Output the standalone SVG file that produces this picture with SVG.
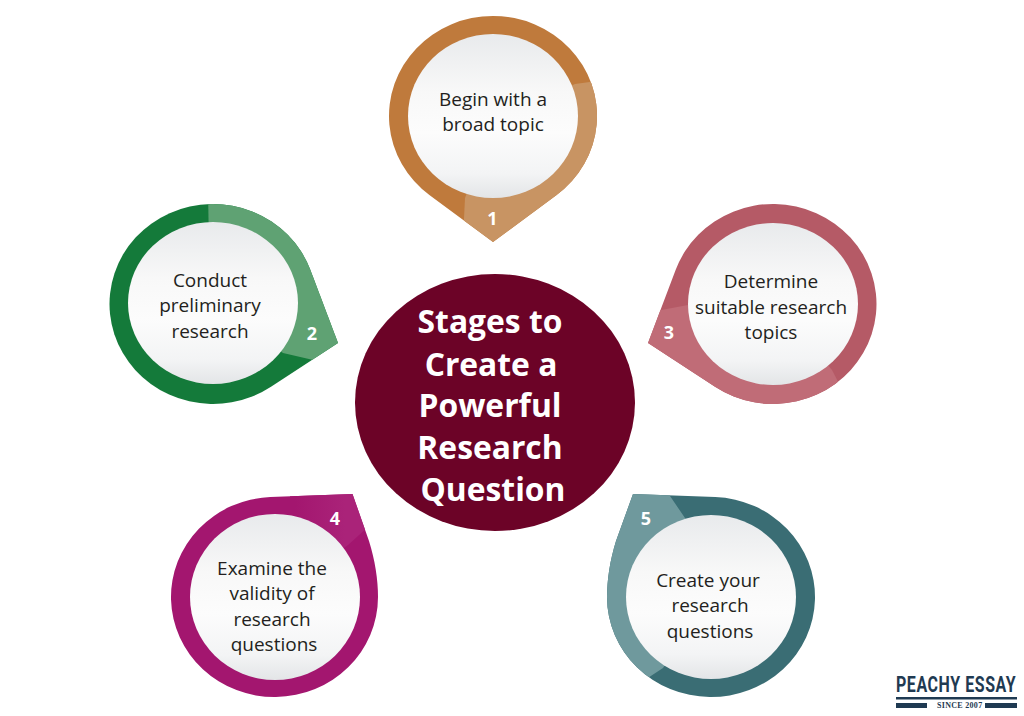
<svg xmlns="http://www.w3.org/2000/svg" width="1024" height="716" viewBox="0 0 1024 716">
<style>
.t{font-family:"Open Sans","Noto Sans",sans-serif;font-size:19px;fill:#231f20;text-anchor:middle}
.n{font-family:"Open Sans","Noto Sans",sans-serif;font-size:18px;font-weight:700;fill:#fff;text-anchor:middle}
.h{font-family:"Open Sans","Noto Sans",sans-serif;font-size:31.8px;font-weight:700;fill:#fff;text-anchor:middle}
.i{fill:url(#g)}
</style>
<defs>
<linearGradient id="g" x1="0" y1="0" x2="0" y2="1"><stop offset="0" stop-color="#e8eaec"/><stop offset=".35" stop-color="#f8f8f8"/><stop offset=".6" stop-color="#fcfcfc"/><stop offset=".85" stop-color="#f3f4f5"/><stop offset="1" stop-color="#e3e5e7"/></linearGradient>
<linearGradient id="w" gradientUnits="userSpaceOnUse" x1="295" y1="0" x2="345" y2="0"><stop offset="0" stop-color="#a3166f"/><stop offset="1" stop-color="#aa2379"/></linearGradient>
<clipPath id="c1"><path d="M493 242L429.7 195.3A104 100 0 1 1 556.3 195.3Z"/></clipPath>
<clipPath id="c2"><path d="M338 343L271 386.8A103.5 100 0 1 1 310.2 269.6Z"/></clipPath>
<clipPath id="c3"><path d="M648 343L675.8 269.6A103.5 100 0 1 1 715 386.8Z"/></clipPath>
<clipPath id="c4"><path d="M352.5 494L369 541C375 560 378 580 378 597A103.5 100 0 1 1 270.3 497.1Z"/></clipPath>
<clipPath id="c5"><path d="M633 494L715.2 497.1A104 100 0 1 1 607 597C607 580 610 560 616 541Z"/></clipPath>
</defs>
<rect width="1024" height="716" fill="#fff"/>
<g id="center">
<ellipse cx="495" cy="402.5" rx="140" ry="128.5" fill="#6c0327"/>
<text class="h" x="490" y="333">Stages to</text>
<text class="h" x="491" y="375.500">Create a</text>
<text class="h" x="490" y="417">Powerful</text>
<text class="h" x="490" y="459">Research</text>
<text class="h" x="493" y="501">Question</text>
</g>
<g id="node1">
<path d="M493 242L429.7 195.3A104 100 0 1 1 556.3 195.3Z" fill="#bf7a3c"/>
<polygon clip-path="url(#c1)" points="575,84 620,78 620,260 462,260 465,198 493,120" fill="#c89463"/>
<ellipse class="i" cx="493" cy="116" rx="85" ry="82"/>
<text class="t" x="493" y="106">Begin with a</text>
<text class="t" x="493" y="131">broad topic</text>
<text class="n" x="492.500" y="225">1</text>
</g>
<g id="node2">
<path d="M338 343L271 386.8A103.5 100 0 1 1 310.2 269.6Z" fill="#147a3a"/>
<polygon clip-path="url(#c2)" points="208,190 360,190 360,371 283,353 210,304" fill="#5fa273"/>
<ellipse class="i" cx="213" cy="303" rx="85" ry="81"/>
<text class="t" x="210" y="287">Conduct</text>
<text class="t" x="210" y="312">preliminary</text>
<text class="t" x="210" y="338">research</text>
<text class="n" x="312" y="340">2</text>
</g>
<g id="node3">
<path d="M648 343L675.8 269.6A103.5 100 0 1 1 715 386.8Z" fill="#b55a66"/>
<polygon clip-path="url(#c3)" points="776,304 688,305 640,314 640,430 863,430 832,370" fill="#c06c77"/>
<ellipse class="i" cx="773" cy="304" rx="85" ry="81"/>
<text class="t" x="771" y="288">Determine</text>
<text class="t" x="771" y="314">suitable research</text>
<text class="t" x="771" y="339">topics</text>
<text class="n" x="669" y="339">3</text>
</g>
<g id="node4">
<path d="M352.5 494L369 541C375 560 378 580 378 597A103.5 100 0 1 1 270.3 497.1Z" fill="#a3166f"/>
<polygon clip-path="url(#c4)" points="275,597 348,545 380,516 380,480 290,480 290,510" fill="url(#w)"/>
<ellipse class="i" cx="275" cy="597" rx="85" ry="83"/>
<text class="t" x="272" y="575">Examine the</text>
<text class="t" x="272" y="600">validity of</text>
<text class="t" x="272" y="626">research</text>
<text class="t" x="274" y="651">questions</text>
<text class="n" x="335" y="525">4</text>
</g>
<g id="node5">
<path d="M633 494L715.2 497.1A104 100 0 1 1 607 597C607 580 610 560 616 541Z" fill="#3a6d74"/>
<polygon clip-path="url(#c5)" points="711,597 685,518 670,496 660,470 590,470 590,716 663,668" fill="#6f999d"/>
<ellipse class="i" cx="711" cy="597" rx="85" ry="82"/>
<text class="t" x="708" y="587">Create your</text>
<text class="t" x="710" y="612">research</text>
<text class="t" x="710" y="638">questions</text>
<text class="n" x="646" y="525">5</text>
</g>
<g id="logo" fill="#1f3a52">
<text transform="translate(896 692) scale(.71 1)" font-family="Roboto,sans-serif" font-size="22.500" font-weight="700" letter-spacing=".8">PEACHY ESSAY</text>
<rect x="896" y="697" width="121" height="2.500"/>
<rect x="896" y="703" width="31" height="5"/>
<rect x="985" y="703" width="32" height="5"/>
<text x="937" y="708" font-family="Liberation Serif,serif" font-size="8" font-weight="700" letter-spacing=".3">SINCE 2007</text>
</g>
</svg>
